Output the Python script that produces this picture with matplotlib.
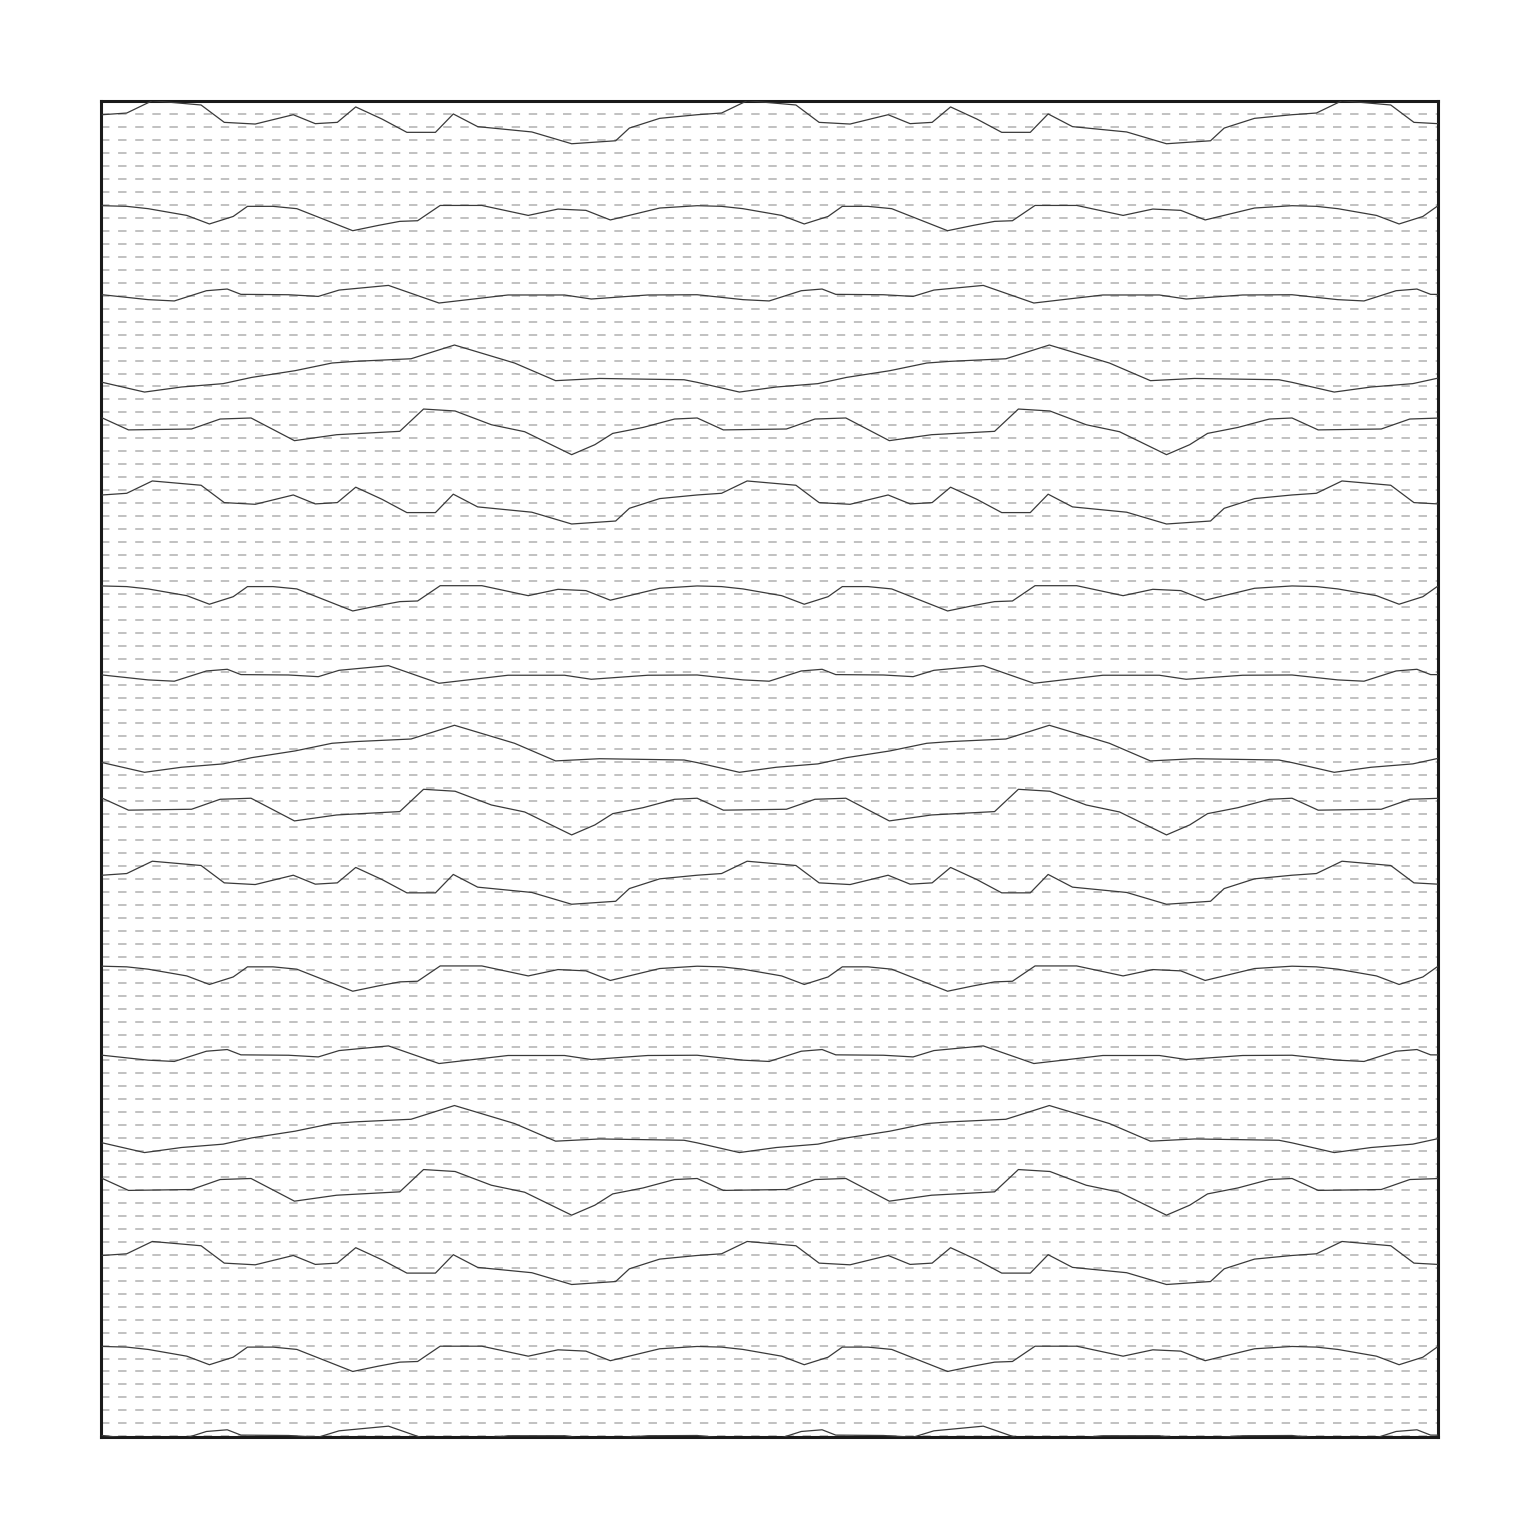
import numpy as np
import matplotlib
matplotlib.use("Agg")
import matplotlib.pyplot as plt

# one period of each of the five traces
# x: position inside the period (0..100), y: level in grid steps
xa = [0, 4.1, 8.4, 16.6, 20.5, 25.7, 32.1, 35.8, 39.5, 42.6, 47.0, 51.2, 56.0, 59.0, 63.1, 72.2, 78.9, 86.3, 88.6, 93.7, 100]
ya = [72.63, 72.76, 73.71, 73.38, 72.04, 71.91, 72.63, 71.94, 72.04, 73.23, 72.30, 71.27, 71.27, 72.69, 71.71, 71.30, 70.39, 70.62, 71.60, 72.35, 72.63]

xb = [0, 4.1, 7.7, 14.2, 18.0, 22.0, 24.4, 28.7, 32.7, 42.1, 46.4, 50.0, 53.0, 56.8, 63.8, 71.6, 76.6, 81.3, 85.4, 93.7, 100]
yb = [65.61, 65.56, 65.38, 64.86, 64.20, 64.78, 65.56, 65.56, 65.38, 63.68, 64.09, 64.40, 64.45, 65.63, 65.63, 64.86, 65.35, 65.25, 64.51, 65.43, 65.61]

xc = [0, 7.7, 12.1, 17.5, 21.0, 23.3, 31.3, 36.3, 39.8, 48.1, 56.6, 68.2, 77.7, 82.2, 91.7, 100]
yc = [58.74, 58.36, 58.26, 59.05, 59.18, 58.77, 58.74, 58.61, 59.10, 59.46, 58.10, 58.72, 58.72, 58.41, 58.72, 58.74]

xd = [0, 7.1, 13.3, 20.3, 25.1, 32.4, 38.6, 42.5, 51.9, 59.2, 69.3, 76.2, 83.6, 97.8, 100]
yd = [51.98, 51.23, 51.62, 51.88, 52.36, 52.88, 53.47, 53.60, 53.80, 54.86, 53.47, 52.11, 52.28, 52.18, 51.98]

xe = [0, 4.4, 15.0, 19.8, 25.0, 32.3, 39.4, 50.0, 54.0, 59.3, 65.4, 71.0, 78.9, 82.8, 85.8, 90.9, 96.2, 100]
ye = [49.23, 48.31, 48.38, 49.15, 49.23, 47.48, 47.94, 48.20, 49.92, 49.77, 48.71, 48.17, 46.40, 47.17, 48.04, 48.50, 49.15, 49.23]

traces = [(xa, ya), (xb, yb), (xc, yc), (xd, yd), (xe, ye)]
x_shifts = [0, 100, 200]
y_shifts = [29.34, 0, -29.34, -58.68]
grid_levels = list(range(0, 103))

fig = plt.figure(figsize=(15.4, 15.4), dpi=100)
ax = fig.add_axes([0.0656, 0.0666, 0.868, 0.868])

for tx, ty in traces:
    for dy in y_shifts:
        xs = np.concatenate([np.array(tx) + dx for dx in x_shifts])
        ys = np.concatenate([np.array(ty) + dy for dx in x_shifts])
        ax.plot(xs, ys, color='#3a3a3a', lw=0.9, zorder=3)

ax.set_xlim(-0.22, 224.5)
ax.set_ylim(-0.09, 103.05)
ax.set_xticks([])
ax.set_yticks(grid_levels)
ax.tick_params(axis='y', length=0, labelleft=False)
ax.grid(axis='y', color='#b0b0b0', lw=1.1, linestyle=(0, (5.5, 5.7)))
ax.set_axisbelow(True)
for sp in ax.spines.values():
    sp.set_linewidth(2.2)
    sp.set_color('#1a1a1a')

fig.savefig("out.png", dpi=100)
